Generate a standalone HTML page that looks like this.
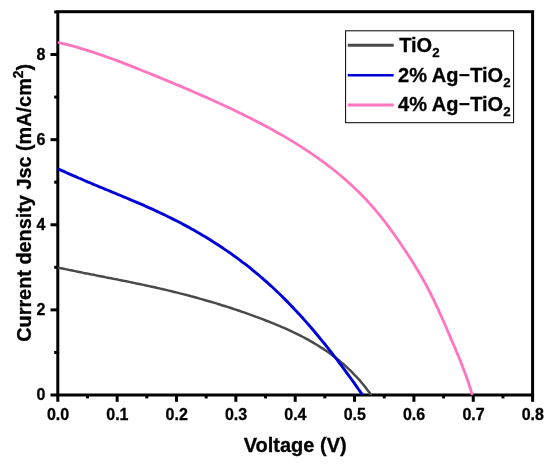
<!DOCTYPE html>
<html lang="en"><head><meta charset="utf-8"><title>J-V curves</title>
<style>html,body{margin:0;padding:0;background:#fff}body{width:550px;height:465px;overflow:hidden}svg{display:block}text{font-family:"Liberation Sans", Arial, Helvetica, sans-serif;font-weight:bold;fill:#000;stroke:#000;stroke-width:0.3px}</style></head><body>
<svg width="550" height="465" viewBox="0 0 550 465">
<rect width="550" height="465" fill="#fff"/>
<g stroke="#000" stroke-width="3" fill="none" stroke-linecap="butt">
<rect x="57.8" y="11.7" width="474.8" height="383.3"/>
<line x1="57.80" y1="395.0" x2="57.80" y2="401.8"/>
<line x1="87.47" y1="395.0" x2="87.47" y2="398.4"/>
<line x1="117.15" y1="395.0" x2="117.15" y2="401.8"/>
<line x1="146.83" y1="395.0" x2="146.83" y2="398.4"/>
<line x1="176.50" y1="395.0" x2="176.50" y2="401.8"/>
<line x1="206.18" y1="395.0" x2="206.18" y2="398.4"/>
<line x1="235.85" y1="395.0" x2="235.85" y2="401.8"/>
<line x1="265.53" y1="395.0" x2="265.53" y2="398.4"/>
<line x1="295.20" y1="395.0" x2="295.20" y2="401.8"/>
<line x1="324.88" y1="395.0" x2="324.88" y2="398.4"/>
<line x1="354.55" y1="395.0" x2="354.55" y2="401.8"/>
<line x1="384.23" y1="395.0" x2="384.23" y2="398.4"/>
<line x1="413.90" y1="395.0" x2="413.90" y2="401.8"/>
<line x1="443.58" y1="395.0" x2="443.58" y2="398.4"/>
<line x1="473.25" y1="395.0" x2="473.25" y2="401.8"/>
<line x1="502.93" y1="395.0" x2="502.93" y2="398.4"/>
<line x1="532.60" y1="395.0" x2="532.60" y2="401.8"/>
<line x1="57.8" y1="395.00" x2="50.5" y2="395.00"/>
<line x1="57.8" y1="352.44" x2="54.2" y2="352.44"/>
<line x1="57.8" y1="309.88" x2="50.5" y2="309.88"/>
<line x1="57.8" y1="267.32" x2="54.2" y2="267.32"/>
<line x1="57.8" y1="224.76" x2="50.5" y2="224.76"/>
<line x1="57.8" y1="182.20" x2="54.2" y2="182.20"/>
<line x1="57.8" y1="139.64" x2="50.5" y2="139.64"/>
<line x1="57.8" y1="97.08" x2="54.2" y2="97.08"/>
<line x1="57.8" y1="54.52" x2="50.5" y2="54.52"/>
<line x1="57.8" y1="11.96" x2="54.2" y2="11.96"/>
</g>
<clipPath id="pc"><rect x="57.8" y="11.7" width="474.8" height="383.6"/></clipPath>
<g fill="none" stroke-linecap="round" stroke-linejoin="round" clip-path="url(#pc)">
<path d="M58.0 267.6 L60.8 268.2 L63.7 268.8 L66.5 269.4 L69.4 270.0 L72.2 270.5 L75.1 271.1 L77.9 271.7 L80.8 272.3 L83.6 272.9 L86.5 273.4 L89.3 274.0 L92.2 274.6 L95.0 275.1 L97.8 275.7 L100.7 276.2 L103.5 276.8 L106.4 277.4 L109.2 277.9 L112.1 278.5 L114.9 279.1 L117.8 279.6 L120.6 280.2 L123.4 280.8 L126.3 281.3 L129.1 281.9 L132.0 282.5 L134.8 283.1 L137.6 283.7 L140.5 284.3 L143.3 284.9 L146.1 285.5 L149.0 286.1 L151.8 286.7 L154.6 287.3 L157.5 288.0 L160.3 288.6 L163.1 289.3 L165.9 289.9 L168.8 290.6 L171.6 291.3 L174.4 292.0 L177.2 292.6 L180.0 293.4 L182.8 294.1 L185.6 294.8 L188.4 295.5 L191.2 296.3 L194.0 297.0 L196.8 297.8 L199.6 298.6 L202.4 299.4 L205.2 300.2 L208.0 301.0 L210.8 301.8 L213.6 302.6 L216.4 303.4 L219.1 304.3 L221.9 305.2 L224.7 306.0 L227.4 306.9 L230.2 307.8 L233.0 308.7 L235.7 309.6 L238.5 310.5 L241.2 311.5 L244.0 312.4 L246.7 313.4 L249.5 314.4 L252.2 315.4 L254.9 316.4 L257.7 317.4 L260.4 318.4 L263.1 319.4 L265.8 320.5 L268.5 321.5 L271.3 322.6 L273.9 323.7 L276.6 324.8 L279.3 325.9 L282.0 327.1 L284.7 328.2 L287.3 329.4 L290.0 330.6 L292.6 331.9 L295.2 333.1 L297.8 334.4 L300.4 335.7 L303.0 337.0 L305.5 338.4 L308.0 339.7 L310.6 341.1 L313.1 342.6 L315.5 344.0 L318.0 345.5 L320.4 347.1 L322.9 348.6 L325.3 350.2 L327.6 351.8 L330.0 353.5 L332.3 355.2 L334.6 356.9 L336.9 358.7 L339.1 360.5 L341.3 362.4 L343.5 364.3 L345.7 366.2 L347.8 368.1 L349.9 370.1 L352.0 372.2 L354.0 374.3 L356.1 376.4 L358.0 378.5 L360.0 380.7 L361.9 383.0 L363.8 385.2 L365.6 387.6 L367.4 389.9 L369.2 392.3 L370.9 394.8" stroke="#4a4a4a" stroke-width="2.5"/>
<path d="M57.9 168.7 L60.8 170.1 L63.8 171.4 L66.7 172.8 L69.7 174.1 L72.6 175.4 L75.6 176.7 L78.6 178.0 L81.6 179.2 L84.5 180.5 L87.5 181.8 L90.5 183.0 L93.5 184.3 L96.5 185.5 L99.5 186.8 L102.5 188.0 L105.5 189.3 L108.6 190.5 L111.6 191.8 L114.6 193.0 L117.6 194.3 L120.6 195.5 L123.6 196.8 L126.6 198.0 L129.6 199.3 L132.6 200.6 L135.6 201.8 L138.6 203.1 L141.6 204.4 L144.6 205.7 L147.6 207.1 L150.5 208.4 L153.5 209.7 L156.5 211.1 L159.4 212.5 L162.4 213.9 L165.3 215.3 L168.2 216.7 L171.1 218.1 L174.0 219.6 L176.9 221.0 L179.8 222.5 L182.7 224.1 L185.6 225.6 L188.4 227.1 L191.2 228.7 L194.1 230.3 L196.9 231.9 L199.7 233.5 L202.5 235.2 L205.3 236.8 L208.0 238.5 L210.8 240.2 L213.5 242.0 L216.2 243.7 L219.0 245.5 L221.7 247.3 L224.3 249.1 L227.0 250.9 L229.7 252.7 L232.3 254.6 L234.9 256.5 L237.6 258.4 L240.2 260.3 L242.7 262.3 L245.3 264.2 L247.9 266.2 L250.4 268.2 L252.9 270.3 L255.4 272.3 L257.9 274.4 L260.4 276.5 L262.8 278.6 L265.3 280.8 L267.7 282.9 L270.1 285.1 L272.5 287.3 L274.9 289.5 L277.2 291.8 L279.6 294.0 L281.9 296.3 L284.2 298.6 L286.5 300.9 L288.8 303.2 L291.0 305.6 L293.3 307.9 L295.5 310.3 L297.8 312.7 L300.0 315.1 L302.2 317.5 L304.3 319.9 L306.5 322.4 L308.6 324.8 L310.8 327.3 L312.9 329.7 L315.0 332.2 L317.1 334.7 L319.2 337.2 L321.3 339.8 L323.3 342.3 L325.4 344.8 L327.4 347.4 L329.4 349.9 L331.4 352.5 L333.4 355.1 L335.4 357.7 L337.4 360.2 L339.3 362.8 L341.3 365.4 L343.2 368.0 L345.2 370.6 L347.1 373.3 L349.0 375.9 L350.9 378.5 L352.8 381.1 L354.6 383.7 L356.5 386.4 L358.3 389.0 L360.2 391.6 L362.0 394.3" stroke="#0000d8" stroke-width="2.9"/>
<path d="M58.1 42.5 L62.8 43.6 L67.4 44.7 L72.0 45.9 L76.7 47.2 L81.3 48.6 L85.8 49.9 L90.4 51.4 L95.0 52.9 L99.5 54.4 L104.1 56.0 L108.6 57.6 L113.2 59.2 L117.7 60.9 L122.2 62.6 L126.7 64.4 L131.2 66.1 L135.7 67.9 L140.2 69.7 L144.6 71.5 L149.1 73.3 L153.5 75.1 L158.0 76.9 L162.4 78.7 L166.9 80.6 L171.3 82.4 L175.7 84.3 L180.2 86.1 L184.6 88.0 L189.0 89.9 L193.4 91.8 L197.8 93.7 L202.2 95.6 L206.6 97.6 L211.0 99.5 L215.3 101.5 L219.7 103.5 L224.1 105.5 L228.4 107.6 L232.8 109.6 L237.1 111.7 L241.5 113.8 L245.8 116.0 L250.1 118.1 L254.4 120.3 L258.7 122.5 L263.0 124.7 L267.3 127.0 L271.5 129.3 L275.7 131.7 L279.9 134.0 L284.1 136.4 L288.3 138.9 L292.4 141.4 L296.5 143.9 L300.6 146.4 L304.6 149.1 L308.6 151.7 L312.6 154.4 L316.5 157.1 L320.4 159.9 L324.3 162.7 L328.1 165.6 L331.9 168.5 L335.7 171.5 L339.4 174.5 L343.0 177.6 L346.6 180.8 L350.2 184.0 L353.7 187.2 L357.2 190.5 L360.6 193.9 L363.9 197.3 L367.2 200.8 L370.4 204.4 L373.6 208.0 L376.7 211.7 L379.8 215.4 L382.8 219.2 L385.8 223.0 L388.7 226.9 L391.6 230.8 L394.4 234.7 L397.2 238.7 L399.9 242.6 L402.6 246.7 L405.3 250.7 L407.9 254.7 L410.5 258.7 L413.1 262.8 L415.6 266.9 L418.1 271.0 L420.5 275.1 L422.9 279.2 L425.2 283.4 L427.5 287.6 L429.7 291.9 L431.8 296.2 L434.0 300.5 L436.0 304.8 L438.1 309.2 L440.0 313.6 L442.0 318.0 L444.0 322.4 L445.9 326.8 L447.8 331.2 L449.7 335.6 L451.6 340.1 L453.5 344.5 L455.4 348.9 L457.2 353.4 L459.1 357.8 L460.9 362.3 L462.6 366.7 L464.3 371.2 L466.0 375.7 L467.6 380.3 L469.1 384.8 L470.6 389.4 L472.0 394.0" stroke="#ff76be" stroke-width="2.8"/>
</g>
<g font-size="16" text-anchor="middle">
<text x="58.0" y="419.8">0.0</text>
<text x="117.4" y="419.8">0.1</text>
<text x="176.7" y="419.8">0.2</text>
<text x="236.1" y="419.8">0.3</text>
<text x="295.4" y="419.8">0.4</text>
<text x="354.8" y="419.8">0.5</text>
<text x="414.1" y="419.8">0.6</text>
<text x="473.5" y="419.8">0.7</text>
<text x="532.8" y="419.8">0.8</text>
</g>
<g font-size="16" text-anchor="end">
<text x="45.4" y="400.0">0</text>
<text x="45.4" y="314.9">2</text>
<text x="45.4" y="229.8">4</text>
<text x="45.4" y="144.6">6</text>
<text x="45.4" y="59.5">8</text>
</g>
<text x="295.2" y="451.6" font-size="20" text-anchor="middle">Voltage (V)</text>
<text transform="translate(30.8 202.8) rotate(-90)" font-size="19.85" text-anchor="middle">Current density Jsc (mA/cm<tspan font-size="14" dy="-7.6">2</tspan><tspan dy="7.6">)</tspan></text>
<rect x="345.6" y="30.8" width="168" height="91.9" fill="#fff" stroke="#000" stroke-width="1"/>
<g fill="none">
<line x1="347.7" x2="393.7" y1="45.3" y2="45.3" stroke="#4a4a4a" stroke-width="3"/>
<line x1="347.7" x2="393.7" y1="75.2" y2="75.2" stroke="#0000d8" stroke-width="2.6"/>
<line x1="347.7" x2="393.7" y1="105" y2="105" stroke="#ff76be" stroke-width="3.2"/>
</g>
<g font-size="20">
<text x="399.2" y="52.1">TiO<tspan font-size="13.3" dy="5.2">2</tspan></text>
<text x="398.1" y="81.8">2% Ag<tspan stroke="none">−</tspan>TiO<tspan font-size="13.3" dy="5.2">2</tspan></text>
<text x="398.1" y="111">4% Ag<tspan stroke="none">−</tspan>TiO<tspan font-size="13.3" dy="5.2">2</tspan></text>
</g>
</svg></body></html>
